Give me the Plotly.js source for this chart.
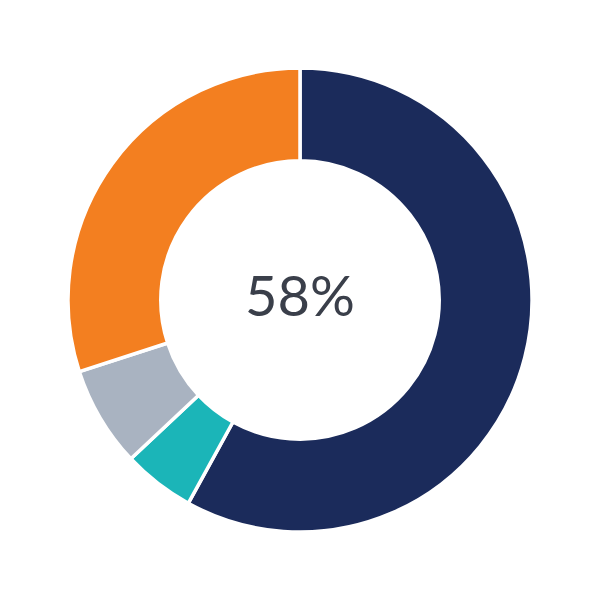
<!DOCTYPE html>
<html>
<head>
<meta charset="utf-8">
<script src="https://cdn.plot.ly/plotly-3.0.1.min.js"></script>
<style>
  html, body { margin: 0; padding: 0; background: #fff; }
  #chart { width: 600px; height: 600px; }
</style>
</head>
<body>
<div id="chart"></div>
<script>
const labels = ['A', 'B', 'C', 'D'];
const values = [58, 5, 7, 30];
const colors = ['#1b2b5b', '#1bb5b8', '#a9b3c1', '#f37f20'];
const centerText = '58%';

const trace = {
  type: 'pie',
  labels: labels,
  values: values,
  hole: 0.6,
  sort: false,
  direction: 'clockwise',
  rotation: 0,
  textinfo: 'none',
  hoverinfo: 'none',
  marker: { colors: colors, line: { color: '#ffffff', width: 3.5 } }
};

Plotly.newPlot('chart', [trace], {
  width: 600,
  height: 600,
  margin: { l: 68, r: 68, t: 68, b: 68 },
  showlegend: false,
  paper_bgcolor: '#ffffff',
  annotations: [{
    text: centerText,
    x: 0.5, y: 0.5, xref: 'paper', yref: 'paper',
    yshift: 6,
    showarrow: false,
    font: { family: 'Lato', size: 56, color: '#3a3f4a' }
  }]
}, { displayModeBar: false });
</script>
</body>
</html>
